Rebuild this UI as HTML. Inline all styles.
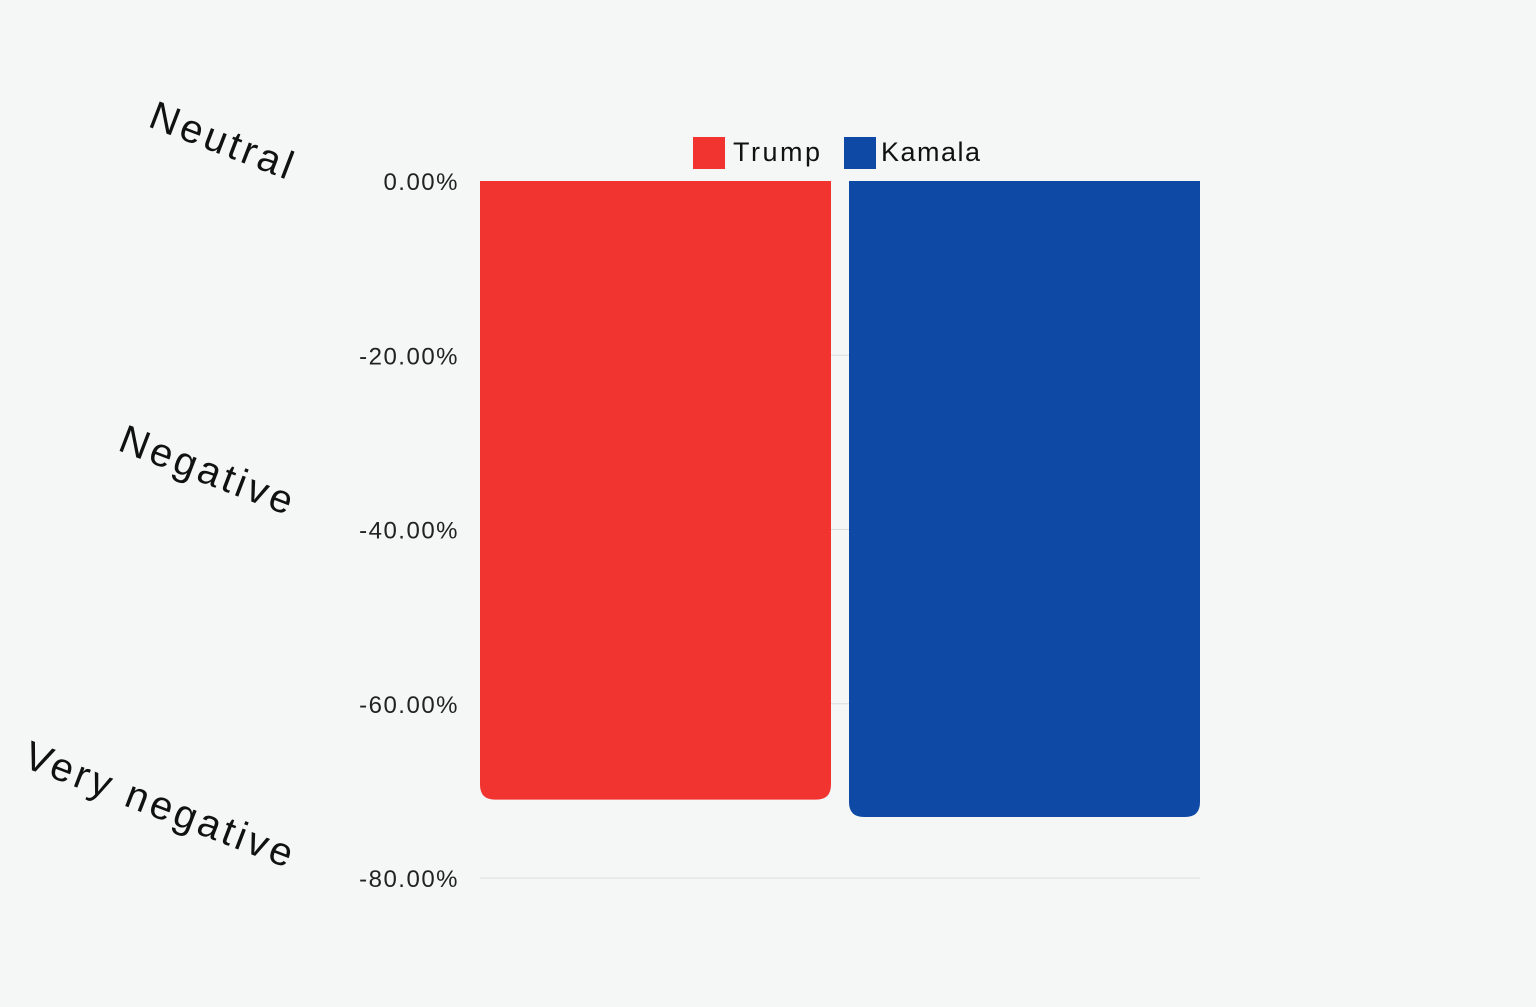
<!DOCTYPE html>
<html><head><meta charset="utf-8"><style>
html,body{margin:0;padding:0;background:#f5f7f7;}
svg{display:block;font-family:"Liberation Sans",sans-serif;}
</style></head><body>
<svg id="chart" width="1536" height="1007" viewBox="0 0 1536 1007">
<rect width="1536" height="1007" fill="#f5f7f7"/>
<g id="grid"></g><g id="bars"></g><g id="ticks"></g><g id="cats"></g>
<g>
<rect x="693" y="137" width="32" height="32" fill="#f23431"/>
<text x="733" y="161" font-size="27" letter-spacing="2.5" fill="#111">Trump</text>
<rect x="844" y="137" width="32" height="32" fill="#0e49a5"/>
<text x="881" y="161" font-size="27" letter-spacing="1.5" fill="#111">Kamala</text>
</g>
</svg>
<script>
const series = ["Trump","Kamala"];
const values = [-71, -73];
const colors = ["#f23431","#0e49a5"];
const ticks = [0,-20,-40,-60,-80];
const tickLabels = ["0.00%","-20.00%","-40.00%","-60.00%","-80.00%"];
const categories = ["Neutral","Negative","Very negative"];
const catValues = [0,-38.5,-79];

const NS="http://www.w3.org/2000/svg";
const y0=181,y1=878,vMin=-80;
const yScale=v=>y0+(v/vMin)*(y1-y0);
const plotL=480,plotR=1200,barW=351,gap=18;
const xScale=i=>plotL+i*(barW+gap);
function mk(tag,attrs,parent){const e=document.createElementNS(NS,tag);for(const k in attrs)e.setAttribute(k,attrs[k]);parent.appendChild(e);return e;}
const grid=document.getElementById('grid'),bars=document.getElementById('bars'),tg=document.getElementById('ticks'),cg=document.getElementById('cats');
ticks.forEach((t,i)=>{
  const y=yScale(t);
  if(t!==0){const l=mk('line',{x1:plotL,x2:plotR,y1:y,y2:y,stroke:'#dcdcdc','stroke-width':1},grid);
  
  }
  const tx=mk('text',{x:459,y:y+9,'text-anchor':'end','font-size':24,'letter-spacing':1.5,fill:'#222'},tg);
  tx.textContent=tickLabels[i];
  
  
});
values.forEach((v,i)=>{
  const x=xScale(i),yt=yScale(0),yb=yScale(v),r=15;
  const d=`M${x},${yt}H${x+barW}V${yb-r}Q${x+barW},${yb} ${x+barW-r},${yb}H${x+r}Q${x},${yb} ${x},${yb-r}Z`;
  const p=mk('path',{d:d,fill:colors[i]},bars);
  
  
});
categories.forEach((c,i)=>{
  const y=yScale(catValues[i]);
  const t=mk('text',{x:290,y:y,'text-anchor':'end','font-size':40,'letter-spacing':3.5,fill:'#111',transform:`rotate(21 290 ${y})`},cg);
  t.textContent=c;
  
  
});
</script>
</body></html>
